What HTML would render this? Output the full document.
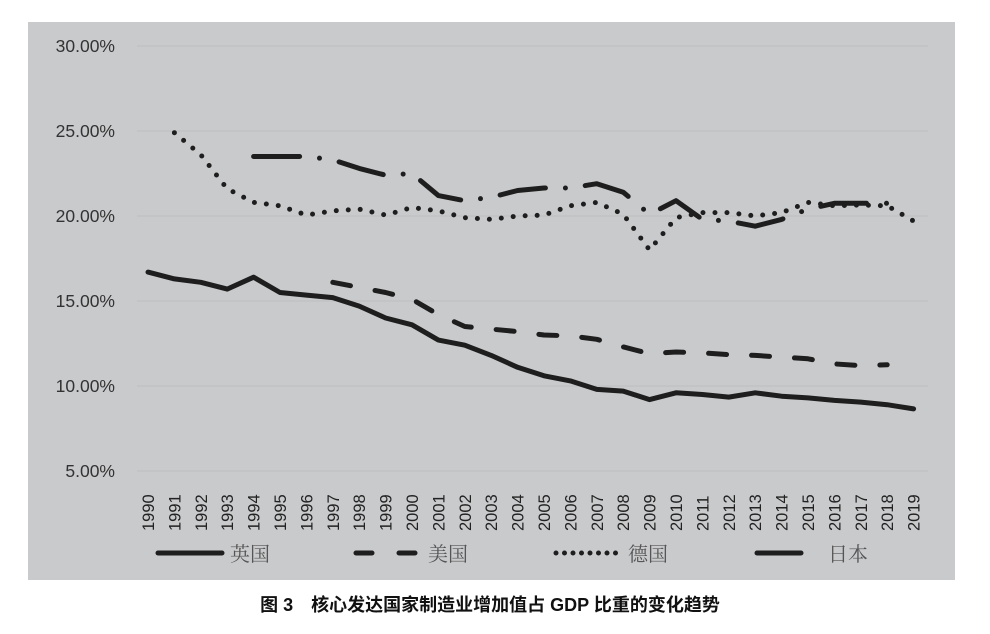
<!DOCTYPE html>
<html><head><meta charset="utf-8"><style>
body{margin:0;background:#fff;width:990px;height:634px;overflow:hidden}
svg{display:block}
</style></head><body>
<svg id="chart" width="990" height="634" xmlns="http://www.w3.org/2000/svg">
<rect x="28" y="22" width="927" height="558" fill="#c9cacc"/>
<g id="grid"></g><g id="yl"></g><g id="xl"></g><g id="series"></g>
<g id="legend">
<line x1="158" y1="553" x2="222" y2="553" stroke="#1e1e1e" stroke-width="5" stroke-linecap="round"/>
<text x="230" y="561" font-size="20" fill="#555" font-family="'Liberation Serif','Noto Serif CJK SC',serif">英国</text>
<line x1="356" y1="553" x2="421" y2="553" stroke="#1e1e1e" stroke-width="5" stroke-linecap="round" stroke-dasharray="16 27"/>
<text x="428" y="561" font-size="20" fill="#555" font-family="'Liberation Serif','Noto Serif CJK SC',serif">美国</text>
<line x1="556" y1="553" x2="620" y2="553" stroke="#1e1e1e" stroke-width="5" stroke-linecap="round" stroke-dasharray="0 8.5"/>
<text x="628" y="561" font-size="20" fill="#555" font-family="'Liberation Serif','Noto Serif CJK SC',serif">德国</text>
<line x1="757" y1="553" x2="818" y2="553" stroke="#1e1e1e" stroke-width="5" stroke-linecap="round" stroke-dasharray="44 200"/>
<text x="828" y="561" font-size="20" fill="#555" font-family="'Liberation Serif','Noto Serif CJK SC',serif">日本</text>
</g>
<text x="490" y="611" text-anchor="middle" font-size="18" font-weight="bold" fill="#111" font-family="'Liberation Sans','Noto Sans CJK SC',sans-serif">图 3　核心发达国家制造业增加值占 GDP 比重的变化趋势</text>
</svg>
<script>
const years=[1990,1991,1992,1993,1994,1995,1996,1997,1998,1999,2000,2001,2002,2003,2004,2005,2006,2007,2008,2009,2010,2011,2012,2013,2014,2015,2016,2017,2018,2019];
const yTicks=[5,10,15,20,25,30];
const ukValues=[16.7,16.3,16.1,15.7,16.4,15.5,15.35,15.2,14.7,14.0,13.6,12.7,12.4,11.8,11.1,10.6,10.3,9.8,9.7,9.2,9.6,9.5,9.35,9.6,9.4,9.3,9.15,9.05,8.9,8.65];
const usValues=[null,null,null,null,null,null,null,16.1,15.8,15.5,15.1,14.2,13.5,13.35,13.2,13.0,12.95,12.75,12.3,11.9,12.0,11.95,11.85,11.8,11.7,11.6,11.3,11.2,11.25,null];
const deValues=[null,24.9,23.6,21.6,20.8,20.6,20.05,20.3,20.4,20.05,20.5,20.3,19.9,19.8,20.0,20.05,20.6,20.8,20.1,18.0,19.9,20.2,20.2,20.0,20.2,20.8,20.6,20.65,20.6,19.7];
const jpValues=[null,null,null,null,23.5,23.5,23.5,23.3,22.8,22.4,22.5,21.2,20.9,21.1,21.5,21.65,21.65,21.9,21.4,20.1,20.9,19.8,19.7,19.4,19.8,20.4,20.75,20.75,20.75,null];
const NS='http://www.w3.org/2000/svg';
const x=i=>148+i*26.4;
const y=v=>471-(v-5)*17;
function mk(tag,attrs,parent){const e=document.createElementNS(NS,tag);for(const k in attrs)e.setAttribute(k,attrs[k]);document.getElementById(parent).appendChild(e);return e;}
yTicks.forEach(t=>{
  const g=mk('line',{x1:137,x2:928,y1:y(t),y2:y(t),stroke:'#c0c1c3','stroke-width':1.2},'grid');
  
  
  const l=mk('text',{x:115,y:y(t)+6,'text-anchor':'end','font-size':17.5,fill:'#333','font-family':'Liberation Sans,sans-serif'},'yl');
  l.textContent=t.toFixed(2)+'%';
  
  
});
years.forEach((yr,i)=>{
  const t=mk('text',{x:0,y:0,transform:`translate(${x(i)+6},531) rotate(-90)`,'font-size':16.5,fill:'#222','font-family':'Liberation Sans,sans-serif'},'xl');
  t.textContent=yr;
  
  
});
function series(vals,dash,name){
  let d='';let pen=false;
  vals.forEach((v,i)=>{if(v==null){pen=false;return;}d+=(pen?'L':'M')+x(i).toFixed(1)+' '+y(v).toFixed(1);pen=true;});
  const p=mk('path',{d:d,fill:'none',stroke:'#1e1e1e','stroke-width':5,'stroke-linecap':'round','stroke-linejoin':'round'},'series');
  if(dash)p.setAttribute('stroke-dasharray',dash);
  
  
}
series(ukValues,null,'uk-line');
series(usValues,'18 25','us-line');
series(deValues,'0 12','de-line');
series(jpValues,'46 20 0 20','jp-line');
</script>
</body></html>
